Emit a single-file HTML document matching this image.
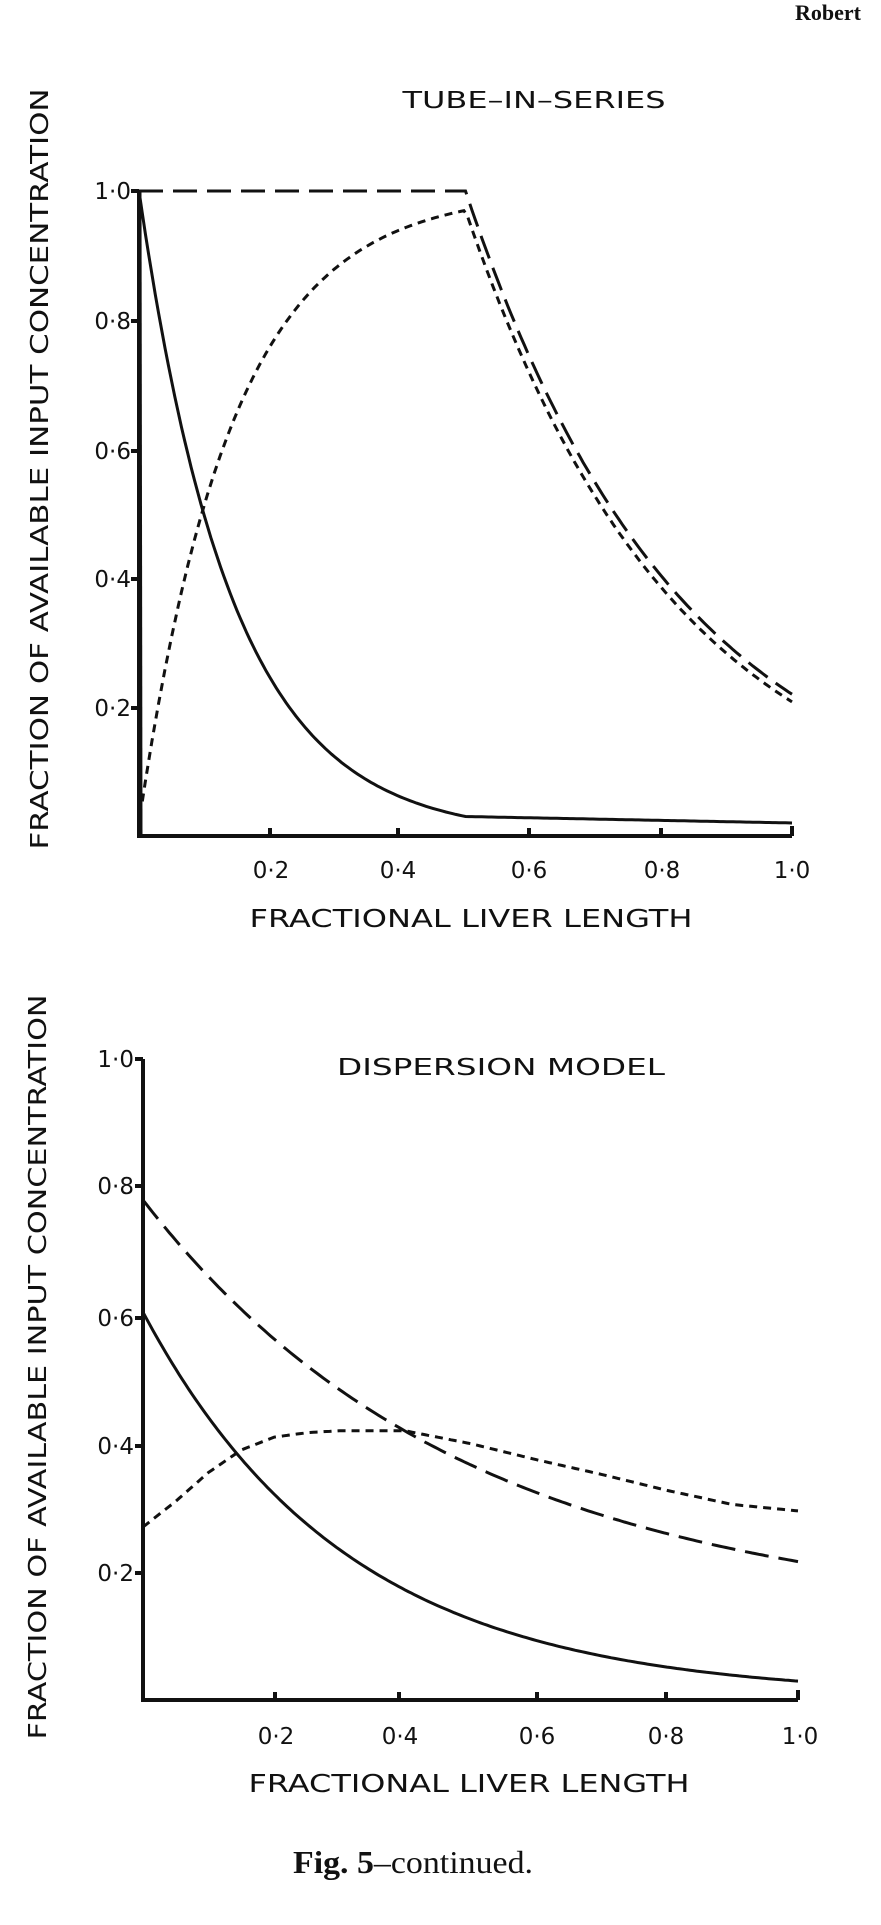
<!DOCTYPE html>
<html><head><meta charset="utf-8"><style>
html,body{margin:0;padding:0;background:#fff;}
svg{display:block;}
text{font-family:"DejaVu Sans","Liberation Sans",sans-serif;fill:#111;}
</style></head><body>
<svg id="s" width="881" height="1925" viewBox="0 0 881 1925" xmlns="http://www.w3.org/2000/svg">
<text x="795" y="20" style="font-family:'Liberation Serif',serif;font-weight:bold;font-size:22px">Robert</text>
<!-- top chart -->
<text x="534" y="108" text-anchor="middle" font-size="23" textLength="263" lengthAdjust="spacingAndGlyphs">TUBE–IN–SERIES</text>
<text transform="translate(48,469) rotate(-90)" text-anchor="middle" font-size="25" textLength="761" lengthAdjust="spacingAndGlyphs">FRACTION  OF  AVAILABLE  INPUT  CONCENTRATION</text>
<text x="471" y="927" text-anchor="middle" font-size="25" textLength="443" lengthAdjust="spacingAndGlyphs">FRACTIONAL  LIVER  LENGTH</text>
<g stroke="#111" stroke-width="4" fill="none">
<path d="M139 191 V836 H792"/>
<path d="M131 191H139 M131 321H139 M131 451H139 M131 579H139 M131 708H139"/>
<path d="M270 836V828 M398 836V828 M529 836V828 M661 836V828 M792 836V826"/>
</g>
<g font-size="23" text-anchor="end">
<text x="131" y="199">1·0</text><text x="131" y="329">0·8</text><text x="131" y="459">0·6</text><text x="131" y="587">0·4</text><text x="131" y="716">0·2</text>
</g>
<g font-size="23" text-anchor="middle">
<text x="271" y="878">0·2</text><text x="398" y="878">0·4</text><text x="529" y="878">0·6</text><text x="662" y="878">0·8</text><text x="792" y="878">1·0</text>
</g>
<g id="top" fill="none" stroke="#111" stroke-width="3"></g>
<!-- bottom chart -->
<text x="501" y="1075" text-anchor="middle" font-size="23" textLength="328" lengthAdjust="spacingAndGlyphs">DISPERSION    MODEL</text>
<text transform="translate(46,1367) rotate(-90)" text-anchor="middle" font-size="25" textLength="745" lengthAdjust="spacingAndGlyphs">FRACTION  OF  AVAILABLE  INPUT  CONCENTRATION</text>
<text x="469" y="1792" text-anchor="middle" font-size="25" textLength="441" lengthAdjust="spacingAndGlyphs">FRACTIONAL  LIVER  LENGTH</text>
<g stroke="#111" stroke-width="4" fill="none">
<path d="M143 1059 V1700 H798"/>
<path d="M135 1059H143 M135 1186H143 M135 1318H143 M135 1446H143 M135 1573H143"/>
<path d="M275 1700V1692 M399 1700V1692 M537 1700V1692 M666 1700V1692 M798 1700V1690"/>
</g>
<g font-size="23" text-anchor="end">
<text x="134" y="1067">1·0</text><text x="134" y="1194">0·8</text><text x="134" y="1326">0·6</text><text x="134" y="1454">0·4</text><text x="134" y="1581">0·2</text>
</g>
<g font-size="23" text-anchor="middle">
<text x="276" y="1744">0·2</text><text x="400" y="1744">0·4</text><text x="537" y="1744">0·6</text><text x="666" y="1744">0·8</text><text x="800" y="1744">1·0</text>
</g>
<g id="bot" fill="none" stroke="#111" stroke-width="3"></g>
<text x="293" y="1873" textLength="240" lengthAdjust="spacingAndGlyphs" style="font-family:'Liberation Serif',serif;font-size:32px"><tspan font-weight="bold">Fig. 5</tspan>–continued.</text>
</svg>
<script>
function path(f,X0,X1,Y0,H,a,b){var d="";for(var i=0;i<=200;i++){var x=a+(b-a)*i/200;var y=f(x);d+=(i?"L":"M")+(X0+(X1-X0)*x).toFixed(1)+" "+(Y0-H*y).toFixed(1);}return d;}
function add(g,d,dash){var p=document.createElementNS("http://www.w3.org/2000/svg","path");p.setAttribute("d",d);if(dash)p.setAttribute("stroke-dasharray",dash);document.getElementById(g).appendChild(p);}
// top
var tx0=139,tx1=792,ty0=836,tH=645;
add("top","M140 191 L141 836");
add("top",path(function(x){return x<0.5?Math.exp(-7*x):0.0302-0.01*(x-0.5)/0.5;},tx0,tx1,ty0,tH,0,1));
add("top",path(function(x){return x<0.5?1:Math.exp(-3.03*(x-0.5));},tx0,tx1,ty0,tH,0,1),"24 10");
add("top",path(function(x){return x<0.5?0.02+0.95*(1-Math.exp(-7*x))/(1-Math.exp(-3.5)):0.97*Math.exp(-3.08*(x-0.5));},tx0,tx1,ty0,tH,0.005,1),"8 6");
// bottom
var bx0=143,bx1=798,by0=1700,bH=641;
function interp(pts){return function(x){for(var i=0;i<pts.length-1;i++){if(x<=pts[i+1][0]){var t=(x-pts[i][0])/(pts[i+1][0]-pts[i][0]);return pts[i][1]+(pts[i+1][1]-pts[i][1])*t;}}return pts[pts.length-1][1];};}
add("bot",path(function(x){return 0.6*Math.exp(-3.2*x)+0.005;},bx0,bx1,by0,bH,0,1));
add("bot",path(function(x){return 0.16+0.62*Math.exp(-2.1*x)-0.02*x;},bx0,bx1,by0,bH,0,1),"24 10");
add("bot",path(interp([[0,0.27],[0.05,0.31],[0.1,0.355],[0.15,0.39],[0.2,0.41],[0.25,0.417],[0.3,0.42],[0.4,0.42],[0.5,0.40],[0.6,0.375],[0.7,0.352],[0.8,0.327],[0.9,0.305],[1,0.295]]),bx0,bx1,by0,bH,0,1),"8 6");
</script>
</body></html>
